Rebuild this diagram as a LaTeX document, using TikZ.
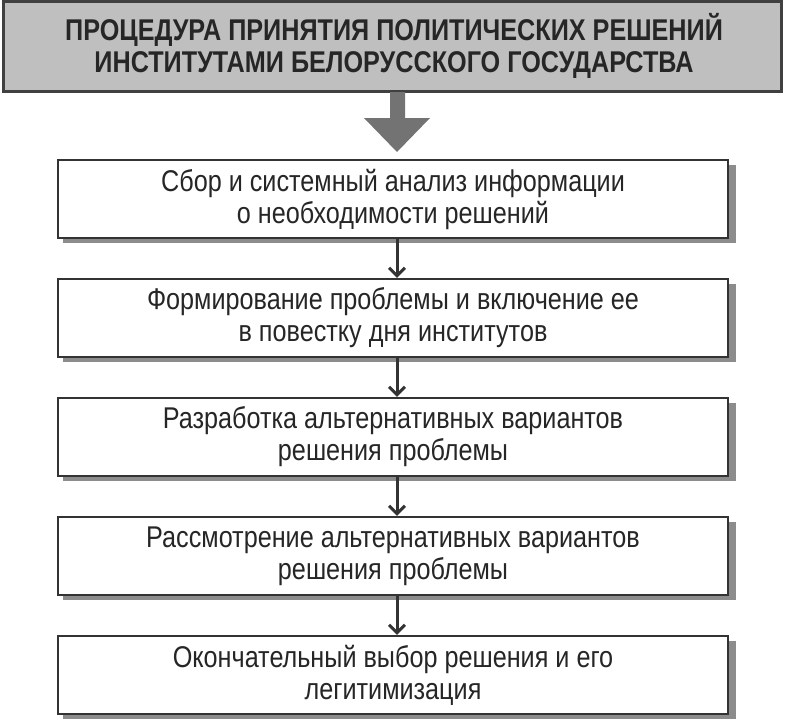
\documentclass[tikz,border=0pt]{standalone}
\usepackage{fontspec}
\setmainfont{Liberation Sans}[FakeStretch=0.84]
\usetikzlibrary{arrows.meta}
\begin{document}
\begin{tikzpicture}[x=1pt,y=-1pt,
  stepbox/.style={draw=black!80,line width=2.2pt,fill=white,minimum width=670pt,minimum height=78pt,align=center,font=\fontsize{30}{32}\selectfont,text=black!85},
  shad/.style={fill=black!45},
  link/.style={draw=black!80,line width=3pt,-{Straight Barb[length=8pt,width=16pt,line width=3pt]}}]
\useasboundingbox (0,0) rectangle (786,720);
\fill[black!25] (2,0) rectangle (782,92);
\draw[black!75,line width=3pt] (3,1.5) rectangle (781,91);
\node (title) at (394,46) [align=center,font=\bfseries\fontsize{30}{32}\selectfont,text=black!85] {ПРОЦЕДУРА ПРИНЯТИЯ ПОЛИТИЧЕСКИХ РЕШЕНИЙ\\ИНСТИТУТАМИ БЕЛОРУССКОГО ГОСУДАРСТВА};
\fill[black!55] (390,92) -- (405,92) -- (405,118) -- (430,118) -- (397,152) -- (364,118) -- (390,118) -- cycle;
\foreach \i/\y in {1/199,2/318,3/437,4/556,5/675}{
  \fill[shad] (63,\y-34) rectangle (736,\y+44);
}
\node[stepbox] (b1) at (393,199) {Сбор и системный анализ информации\\о необходимости решений};
\node[stepbox] (b2) at (393,318) {Формирование проблемы и включение ее\\в повестку дня институтов};
\node[stepbox] (b3) at (393,437) {Разработка альтернативных вариантов\\решения проблемы};
\node[stepbox] (b4) at (393,556) {Рассмотрение альтернативных вариантов\\решения проблемы};
\node[stepbox] (b5) at (393,675) {Окончательный выбор решения и его\\легитимизация};
\foreach \a/\b in {b1/b2,b2/b3,b3/b4,b4/b5}{
  \draw[link] ([xshift=4pt]\a.south) -- ([xshift=4pt]\b.north);
}
\end{tikzpicture}
\end{document}
